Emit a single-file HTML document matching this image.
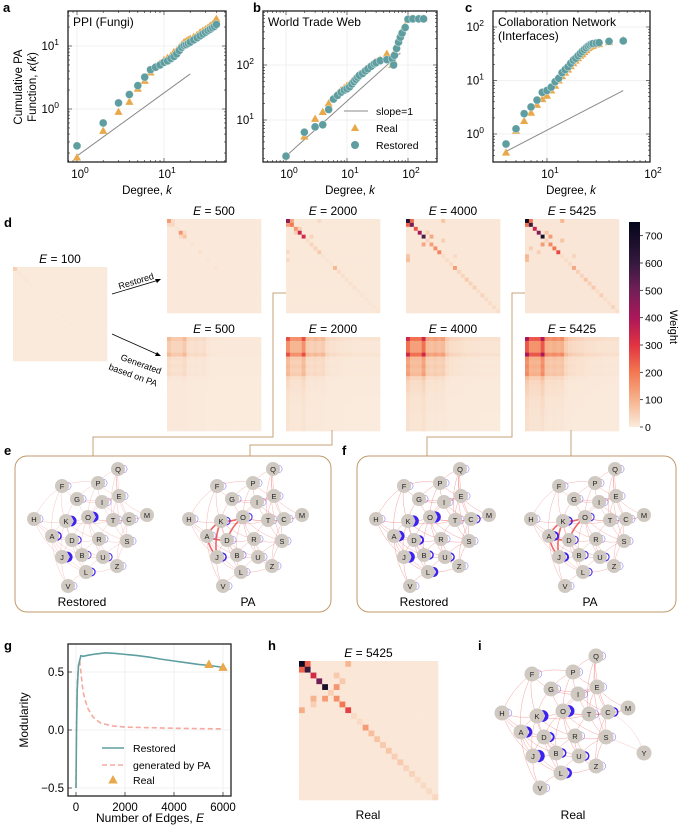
<!DOCTYPE html>
<html><head><meta charset="utf-8">
<style>
html,body{margin:0;padding:0;background:#fff;}
svg{display:block;font-family:"Liberation Sans",sans-serif;}
</style></head>
<body>
<svg id="fig" width="685" height="826" viewBox="0 0 685 826" xmlns="http://www.w3.org/2000/svg">
<defs>
<linearGradient id="cbar" x1="0" y1="1" x2="0" y2="0">
<stop offset="0" stop-color="#faebdd"/><stop offset="0.13" stop-color="#f6b48e"/><stop offset="0.27" stop-color="#f37651"/><stop offset="0.40" stop-color="#e13342"/><stop offset="0.53" stop-color="#ad1759"/><stop offset="0.67" stop-color="#701f57"/><stop offset="0.80" stop-color="#35193e"/><stop offset="1" stop-color="#03051a"/>
</linearGradient>
</defs>
<g id="layer"></g>
<text x="3" y="12" font-size="13" font-weight="bold">a</text>
<text x="253" y="12" font-size="13" font-weight="bold">b</text>
<text x="465" y="12" font-size="13" font-weight="bold">c</text>
<text x="4" y="227" font-size="13" font-weight="bold">d</text>
<text x="4" y="455" font-size="13" font-weight="bold">e</text>
<text x="342" y="455" font-size="13" font-weight="bold">f</text>
<text x="4" y="650" font-size="13" font-weight="bold">g</text>
<text x="268" y="650" font-size="13" font-weight="bold">h</text>
<text x="478" y="650" font-size="13" font-weight="bold">i</text>

<text transform="translate(22,87) rotate(-90)" font-size="11.5" text-anchor="middle">Cumulative PA</text>
<text transform="translate(36,87) rotate(-90)" font-size="11.5" text-anchor="middle">Function, <tspan font-style="italic">κ</tspan>(<tspan font-style="italic">k</tspan>)</text>
<text x="147" y="194" font-size="11.5" text-anchor="middle">Degree, <tspan font-style="italic">k</tspan></text>
<text x="350" y="194" font-size="11.5" text-anchor="middle">Degree, <tspan font-style="italic">k</tspan></text>
<text x="571" y="194" font-size="11.5" text-anchor="middle">Degree, <tspan font-style="italic">k</tspan></text>

<line x1="112" y1="294" x2="159" y2="280" stroke="#000" stroke-width="0.8"/>
<polygon points="161,279 155,279 157,283" fill="#000"/>
<text transform="translate(137,284) rotate(-17)" font-size="9" text-anchor="middle">Restored</text>
<line x1="112" y1="334" x2="159" y2="355" stroke="#000" stroke-width="0.8"/>
<polygon points="161,356 155,356 157,352" fill="#000"/>
<text transform="translate(140,367) rotate(20)" font-size="9" text-anchor="middle">Generated</text>
<text transform="translate(132,378) rotate(20)" font-size="9" text-anchor="middle">based on PA</text>

<g stroke="#c8a37a" stroke-width="1" fill="none">
<polyline points="93,456 93,437 273,437 273,293 286,293"/>
<polyline points="332,430 332,445 250,445 250,456"/>
<polyline points="427,456 427,437 512,437 512,293 525,293"/>
<polyline points="571,430 571,456"/>
</g>
<rect x="15" y="456" width="316" height="156" rx="12" fill="none" stroke="#c09a6b" stroke-width="1"/>
<rect x="357" y="456" width="319" height="156" rx="12" fill="none" stroke="#c09a6b" stroke-width="1"/>
<text x="82" y="606" font-size="12" text-anchor="middle">Restored</text>
<text x="248" y="606" font-size="12" text-anchor="middle">PA</text>
<text x="424" y="606" font-size="12" text-anchor="middle">Restored</text>
<text x="590" y="606" font-size="12" text-anchor="middle">PA</text>
<text x="368" y="819" font-size="12" text-anchor="middle">Real</text>
<text x="573" y="819" font-size="12" text-anchor="middle">Real</text>

<rect x="629" y="222" width="11" height="205" fill="url(#cbar)"/>
<text transform="translate(670,327) rotate(90)" font-size="11" text-anchor="middle">Weight</text>
</svg>
<script>
// ---------- data: panel a ----------
const aK = [1,2,3,4,5,6,7,8,9,10,11,12,13,14,15,16,17,18,19,20,22,24,26,28,30,32,34,36,38,40];
const aRestored = [0.26,0.6,1.25,1.7,2.35,3.2,4.2,4.6,5.0,5.5,5.8,6.3,6.8,7.5,8.5,9.5,10.2,10.5,11,11.5,12.5,13.5,14.5,15.5,16.5,17.5,18.5,19.5,20.5,22];
const aReal = [0.17,0.45,0.9,1.3,2.1,2.8,3.8,4.7,5.3,6,6.5,7,8,8.5,9.5,10.5,11.5,12,12.5,13,14,15,16.5,17.5,18.5,19.5,21,22,24,27];
const aSlopeK = [1,20];
// ---------- panel b ----------
const bK = [1,2,3,4,5,6,7,8,9,10,11,12,13,14,15,16,18,20,22,25,28,30,35,45,55,58,60,65,70,75,80,90,100,120,150,180];
const bRestored = [2.2,6,7.5,8.2,15.5,24,28,32,35,37,40,45,50,55,60,65,70,78,85,95,105,110,120,125,130,100,150,200,260,320,380,480,680,690,690,690];
const bReal = [2.2,5,10.5,14,20,25,30,35,38,42,45,50,55,58,63,68,75,82,90,100,110,115,125,160,100,120,170,230,300,360,420,520,700,700,700,700];
const bSlopeK = [1,75];
// ---------- panel c ----------
const cK = [4,5,6,7,8,9,10,11,12,13,14,15,16,17,18,19,20,21,22,23,24,25,26,27,28,30,32,40,55];
const cRestored = [0.65,1.25,2.4,3.2,4.3,6,6.5,7.5,9.5,11,14,16,18,21,24,26,29,32,35,38,41,44,46,48,49,50,51,54,55];
const cReal = [0.45,1.15,1.75,2.5,3.5,4.5,5.2,6.5,8,10,12,14,16,18.5,21,23.5,26,29,31,34,37,40,42,44,45,47,48,52,57];
const cSlopeK = [4,55];
// ---------- panel g ----------
const gRestoredE = [0,20,50,100,150,200,300,500,800,1200,1600,2000,2500,3000,3500,4000,4500,5000,5500,6000];
const gRestoredQ = [-0.5,0.0,0.35,0.55,0.6,0.64,0.635,0.645,0.655,0.665,0.66,0.652,0.642,0.628,0.61,0.595,0.58,0.565,0.555,0.54];
const gPAE = [0,20,50,100,150,200,250,300,400,500,700,1000,1500,2000,3000,4000,5000,6000];
const gPAQ = [-0.5,0.0,0.4,0.56,0.6,0.5,0.4,0.32,0.24,0.18,0.11,0.06,0.035,0.025,0.02,0.015,0.012,0.01];
const gRealE = [5425,6000];
const gRealQ = [0.565,0.54];
const gXTicks = [0,2000,4000,6000];
const gYTicks = [-0.5,0.0,0.5];
// ---------- heatmaps ----------
const diag100 = [50,8,6,10,5,3,3,3,3,3,3,3,3,3,3,3,3,3,3,3,3,3,3,3];
const diag500 = [140,35,15,150,70,8,15,6,20,6,8,6,10,6,6,5,5,5,5,5,5,5,5,5];
const diag2000 = [450,200,150,350,330,25,40,40,60,15,15,15,90,25,20,20,20,20,15,15,12,12,12,12];
const diag4000 = [650,500,250,420,560,40,130,160,180,25,25,30,140,40,40,60,40,50,25,40,25,25,25,20];
const diag5425 = [720,600,350,470,680,40,170,200,270,25,25,30,120,50,40,70,50,60,25,50,25,25,40,20];
const diagReal = [720,600,330,500,680,50,160,200,280,30,30,140,80,70,60,65,50,60,40,45,30,30,30,35];
const off500 = [[0,1,30],[1,0,30],[3,4,30],[4,3,30]];
const off2000 = [[0,1,130],[1,0,130],[0,8,30],[8,0,30],[2,3,50],[3,2,50],[4,6,40],[10,0,30]];
const off4000 = [[0,1,230],[1,0,230],[0,9,70],[9,0,70],[4,6,120],[6,4,120],[3,5,50],[10,0,80],[5,9,50],[9,12,30]];
const off5425 = [[0,1,210],[1,0,210],[0,9,90],[9,0,90],[4,6,140],[6,4,140],[3,5,70],[10,0,80],[5,9,70],[9,12,40],[8,3,50],[7,1,50]];
const offReal = [[0,1,230],[1,0,230],[4,6,150],[6,4,140],[6,2,100],[2,6,60],[8,0,110],[0,8,90],[3,7,60],[7,2,50]];
const bgRestored = [2,3,5,7,8];
const pa500 = [0.9,0.6,0.6,0.6,0.9,0.3,0.25,0.3,0.25,0.3,0.12,0.08,0.08,0.06,0.05,0.05,0.05,0.05,0.05,0.05,0.05,0.05,0.05,0.05];
const pa2000 = [1,0.6,0.6,0.6,1,0.35,0.3,0.35,0.3,0.35,0.15,0.1,0.1,0.08,0.07,0.06,0.06,0.05,0.05,0.05,0.05,0.05,0.05,0.05];
const pa4000 = [1,0.62,0.62,0.62,1,0.4,0.35,0.4,0.35,0.4,0.18,0.12,0.11,0.1,0.08,0.07,0.07,0.06,0.06,0.05,0.05,0.05,0.05,0.05];
const pa5425 = [1,0.62,0.62,0.62,1,0.42,0.38,0.42,0.38,0.42,0.2,0.14,0.12,0.11,0.1,0.08,0.07,0.07,0.06,0.06,0.05,0.05,0.05,0.05];
const paScale = [110,260,340,400];
const cbTicks = [0,100,200,300,400,500,600,700];
// ---------- networks ----------
const nodeNames = ["Q","P","F","E","G","I","H","K","O","T","C","M","A","D","R","S","J","B","U","Z","L","V"];
const nodeX = [118,98,62,119,77,102,34,66,88,113,129,147,52,72,99,127,62,82,103,117,86,68];
const nodeY = [469,483,486,496,499,502,519,521,517,520,519,515,536,540,539,541,557,555,557,566,572,586];
const iNames = ["Q","P","F","E","G","I","H","K","O","T","C","M","A","D","R","S","J","B","U","Z","L","V","Y"];
const iX = [596,573,532,597,551,578,502,537,563,589,608,628,521,544,575,606,533,556,579,596,561,540,644];
const iY = [656,672,674,687,689,694,713,716,711,714,712,708,732,737,736,737,756,753,756,766,773,788,753];
const edges = "QP QE QT QC QS PF PG PI PE PO FG FH FK FA GI GK GO GE IE IO IT IC EO EC ET EM HK HA HJ HD KO KA KD KJ KB KR KT OT OR OD OB OU OC OS TC TR TS TM CS CM CZ AD AJ AB AL AV DR DJ DB DU DL RS RU RB RZ SU SZ JB JL JV BU BL UZ UL LV LZ".split(" ");
const strongPA = ["KA","AJ","KO","OD","KJ","AD"];
const loopsER = {K:3,O:3,A:1.5,J:3,D:1,B:0.8,U:1,L:1.2};
const loopsEPA = {K:1,O:1,J:1.5,B:0.6};
const loopsFR = {K:3.5,O:3.5,A:3,J:3.5,D:2,B:1.5,U:1.5,L:2.5,C:1.2};
const loopsFPA = {K:1.5,O:1,A:2,J:2,B:1,U:1,L:1,D:1};
const loopsI = {K:3.5,O:3.5,A:3,J:4,D:2,B:1.5,U:1.5,L:2.5,C:1.5};

const NS = "http://www.w3.org/2000/svg";
const layer = document.getElementById("layer");
function el(tag, attrs, parent){
  const e = document.createElementNS(NS, tag);
  for (const k in attrs) e.setAttribute(k, attrs[k]);
  (parent||layer).appendChild(e);
  return e;
}
function logTxt(parent, x, y, exp, anchor){
  const t = el("text", {x:x, y:y, "font-size":11.5, "text-anchor":anchor}, parent);
  
  
  t.appendChild(document.createTextNode("10"));
  const s = el("tspan", {dy:-5, "font-size":8.5}, t);
  s.textContent = exp;
  return t;
}
function tri(parent, x, y, r, fill){
  return el("polygon", {points:`${x},${y-r} ${x-r*0.95},${y+r*0.7} ${x+r*0.95},${y+r*0.7}`, fill:fill}, parent);
}

function logPanel(cfg){
  const g = el("g", {});
  
  
  const [L,T,R,B] = cfg.box;
  const X = k => cfg.x0 + cfg.xd*Math.log10(k);
  const Y = v => cfg.y0 - cfg.yd*Math.log10(v);
  cfg.xt.forEach(e => { const px=X(Math.pow(10,e)); if(px>=L&&px<=R) el("line",{x1:px,y1:T,x2:px,y2:B,stroke:"#ececec","stroke-width":0.8},g); });
  cfg.yt.forEach(e => { const py=Y(Math.pow(10,e)); if(py>=T&&py<=B) el("line",{x1:L,y1:py,x2:R,y2:py,stroke:"#ececec","stroke-width":0.8},g); });
  for (let e=-2;e<4;e++) for (let m=1;m<10;m++){
    const v=m*Math.pow(10,e);
    const px=X(v), py=Y(v), len = m===1?4:2;
    if(px>L+0.5&&px<R-0.5){ el("line",{x1:px,y1:B,x2:px,y2:B-len,stroke:"#222","stroke-width":0.6},g); el("line",{x1:px,y1:T,x2:px,y2:T+len,stroke:"#222","stroke-width":0.6},g);}
    if(py>T+0.5&&py<B-0.5){ el("line",{x1:L,y1:py,x2:L+len,y2:py,stroke:"#222","stroke-width":0.6},g); el("line",{x1:R,y1:py,x2:R-len,y2:py,stroke:"#222","stroke-width":0.6},g);}
  }
  cfg.xt.forEach(e => logTxt(g, X(Math.pow(10,e))+3, B+16, e, "middle"));
  cfg.yt.forEach(e => logTxt(g, L-4-5, Y(Math.pow(10,e))+4, e, "end"));
  const sl = el("line",{x1:X(cfg.slopeK[0]),y1:Y(cfg.slopeK[0]*cfg.slopeA),x2:X(cfg.slopeK[1]),y2:Y(cfg.slopeK[1]*cfg.slopeA),stroke:"#8a8a8a","stroke-width":1},g);
  
  
  cfg.k.forEach((k,i) => {
    const t = tri(g, X(k), Y(cfg.real[i]), 4.3, "#e9a94b");
    
    
  });
  cfg.k.forEach((k,i) => {
    const c = el("circle",{cx:X(k),cy:Y(cfg.restored[i]),r:4,fill:"#5f9ea0",stroke:"#ffffff","stroke-opacity":0.6,"stroke-width":0.6},g);
    
    
  });
  const fr = el("rect",{x:L,y:T,width:R-L,height:B-T,fill:"none",stroke:"#222","stroke-width":1.3},g);
  
  
  cfg.title.forEach((s,i)=>{
    const t = el("text",{x:L+5,y:T+15+i*14,"font-size":12},g);
    t.textContent = s;
    
    
  });
  return {g,X,Y};
}

logPanel({name:"panel-a-ppi", box:[68,11,226,162], x0:77, xd:87, y0:109, yd:63, xt:[0,1], yt:[0,1],
  k:aK, restored:aRestored, real:aReal, slopeK:aSlopeK, slopeA:0.18, title:["PPI (Fungi)"]});
logPanel({name:"panel-b-wtw", box:[263,11,437,162], x0:286, xd:61, y0:175, yd:55, xt:[0,1,2], yt:[1,2],
  k:bK, restored:bRestored, real:bReal, slopeK:bSlopeK, slopeA:2.2, title:["World Trade Web"]});
logPanel({name:"panel-c-collab", box:[493,11,650,162], x0:444, xd:103, y0:134, yd:53.5, xt:[1,2], yt:[0,1,2],
  k:cK, restored:cRestored, real:cReal, slopeK:cSlopeK, slopeA:0.118, title:["Collaboration Network","(Interfaces)"]});
(function(){
  const g = el("g",{});
  
  
  const l = el("line",{x1:344,y1:111,x2:368,y2:111,stroke:"#8a8a8a","stroke-width":1},g);
  
  
  const t1 = el("text",{x:376,y:115,"font-size":10.5},g); t1.textContent="slope=1";
   
  const tr = tri(g,355,128,4.3,"#e9a94b");
   
  const t2 = el("text",{x:376,y:132,"font-size":10.5},g); t2.textContent="Real";
   
  const c = el("circle",{cx:355,cy:145,r:4,fill:"#5f9ea0"},g);
   
  const t3 = el("text",{x:376,y:149,"font-size":10.5},g); t3.textContent="Restored";
   
})();

const cStops = [[0,[250,235,221]],[0.13,[246,180,142]],[0.27,[243,118,81]],[0.40,[225,51,66]],[0.53,[173,23,89]],[0.67,[112,31,87]],[0.80,[53,25,62]],[1,[3,5,26]]];
function cmap(v){
  const t = Math.max(0,Math.min(1,v/750));
  for (let i=1;i<cStops.length;i++){
    if (t<=cStops[i][0]){
      const [t0,c0]=cStops[i-1],[t1,c1]=cStops[i]; const f=(t-t0)/(t1-t0);
      return `rgb(${c0.map((c,j)=>Math.round(c+(c1[j]-c)*f)).join(",")})`;
    }
  }
  return "rgb(3,5,26)";
}
const N = 24;
function restoredMatrix(diag, off, bg){
  const m=[]; for(let i=0;i<N;i++){ m.push(new Array(N).fill(bg)); m[i][i]=diag[i]; }
  off.forEach(([r,c,v])=>{ m[r][c]=v; });
  return m;
}
function paMatrix(s, scale){
  const m=[]; for(let i=0;i<N;i++){ m.push([]); for(let j=0;j<N;j++) m[i].push(s[i]*s[j]*scale); }
  return m;
}
function heatmap(name, x, y, size, m, title){
  const g = el("g",{});
  
  
  const cs = size/N;
  for(let i=0;i<N;i++) for(let j=0;j<N;j++){
    const r = el("rect",{x:(x+j*cs).toFixed(2),y:(y+i*cs).toFixed(2),width:(cs+0.3).toFixed(2),height:(cs+0.3).toFixed(2),fill:cmap(m[i][j])},g);
    
    
  }
  if (title){
    const t = el("text",{x:x+size/2,y:y-4,"font-size":12,"text-anchor":"middle"},g);
    const e = el("tspan",{"font-style":"italic"},t); e.textContent="E";
    t.appendChild(document.createTextNode(" = "+title));
    
    
  }
}
heatmap("heatmap-e100", 13, 267, 94, restoredMatrix(diag100, [], bgRestored[0]), "100");
heatmap("heatmap-restored-e500", 167, 219, 94, restoredMatrix(diag500, off500, bgRestored[1]), "500");
heatmap("heatmap-restored-e2000", 286, 219, 94, restoredMatrix(diag2000, off2000, bgRestored[2]), "2000");
heatmap("heatmap-restored-e4000", 406, 219, 94, restoredMatrix(diag4000, off4000, bgRestored[3]), "4000");
heatmap("heatmap-restored-e5425", 525, 219, 94, restoredMatrix(diag5425, off5425, bgRestored[4]), "5425");
heatmap("heatmap-pa-e500", 167, 337, 94, paMatrix(pa500, paScale[0]), "500");
heatmap("heatmap-pa-e2000", 286, 337, 94, paMatrix(pa2000, paScale[1]), "2000");
heatmap("heatmap-pa-e4000", 406, 337, 94, paMatrix(pa4000, paScale[2]), "4000");
heatmap("heatmap-pa-e5425", 525, 337, 94, paMatrix(pa5425, paScale[3]), "5425");
heatmap("heatmap-real-e5425", 299, 661, 139, restoredMatrix(diagReal, offReal, bgRestored[3]), "5425");
cbTicks.forEach(v=>{
  const y = 427 - v/750*205;
  el("line",{x1:640,y1:y,x2:643,y2:y,stroke:"#222","stroke-width":0.8});
  const t = el("text",{x:645,y:y+4,"font-size":10.5}); t.textContent = v;
  
  
});

function network(name, names, xs, ys, dx, dy, loops, mode, r){
  const g = el("g",{});
  
  
  const pos = {}; names.forEach((n,i)=>pos[n]=[xs[i]+dx, ys[i]+dy]);
  edges.forEach((e,i)=>{
    const a=pos[e[0]], b=pos[e[1]]; if(!a||!b) return;
    const mx=(a[0]+b[0])/2, my=(a[1]+b[1])/2;
    const nx=-(b[1]-a[1])*0.15, ny=(b[0]-a[0])*0.15;
    const strong = mode==="pa" && (strongPA.includes(e)||strongPA.includes(e[1]+e[0]));
    const op = strong ? 0.9 : (mode==="pa"?0.45:(mode==="dense"?0.55:0.35));
    const p = el("path",{d:`M${a[0]},${a[1]} Q${mx+nx},${my+ny} ${b[0]},${b[1]}`,fill:"none",stroke:"#ee5555","stroke-opacity":op,"stroke-width":strong?1.6:0.5},g);
    
    
  });
  if (names.includes("Y")){
    const a=pos["Y"], b=pos["S"], c=pos["C"];
    el("path",{d:`M${a[0]},${a[1]} Q${a[0]-20},${a[1]-10} ${b[0]},${b[1]}`,fill:"none",stroke:"#ee5555","stroke-opacity":0.35,"stroke-width":0.5},g);
    el("path",{d:`M${a[0]},${a[1]} Q${a[0]-10},${a[1]-30} ${c[0]},${c[1]}`,fill:"none",stroke:"#ee5555","stroke-opacity":0.35,"stroke-width":0.5},g);
  }
  names.forEach(n=>{
    if (n==="Y"||n==="M") return;
    const [x,y]=pos[n]; const w = loops[n]||0.5;
    const lp = el("circle",{cx:x+r*0.75,cy:y,r:r*0.55,fill:"none",stroke:"#3b22f2","stroke-width":w,"stroke-opacity":w>0.6?1:0.7},g);
    
    
  });
  names.forEach(n=>{
    const [x,y]=pos[n];
    const c = el("circle",{cx:x,cy:y,r:r,fill:"#cfc9c1"},g);
    
    
    const t = el("text",{x:x,y:y+2.8,"font-size":7.5,"text-anchor":"middle",fill:"#222"},g);
    t.textContent = n;
    
    
  });
}
network("network-e-restored", nodeNames, nodeX, nodeY, 0, 0, loopsER, "sparse", 7);
network("network-e-pa", nodeNames, nodeX, nodeY, 155, 0, loopsEPA, "pa", 7);
network("network-f-restored", nodeNames, nodeX, nodeY, 342, 0, loopsFR, "dense", 7);
network("network-f-pa", nodeNames, nodeX, nodeY, 497, 0, loopsFPA, "pa", 7);
network("network-i-real", iNames, iX, iY, 0, 0, loopsI, "dense", 7.5);

(function(){
  const g = el("g",{});
  
  
  const L=68,T=644,R=231,B=796;
  const X = e => 76 + e*49/2000;
  const Y = q => 730 - q*116;
  gXTicks.forEach(v=>{
    el("line",{x1:X(v),y1:T,x2:X(v),y2:B,stroke:"#ececec","stroke-width":0.8},g);
    el("line",{x1:X(v),y1:B,x2:X(v),y2:B-4,stroke:"#222","stroke-width":0.7},g);
    const t=el("text",{x:X(v),y:B+15,"font-size":11.5,"text-anchor":"middle"},g); t.textContent=v;
     
  });
  gYTicks.forEach(v=>{
    el("line",{x1:L,y1:Y(v),x2:R,y2:Y(v),stroke:"#ececec","stroke-width":0.8},g);
    el("line",{x1:L,y1:Y(v),x2:L+4,y2:Y(v),stroke:"#222","stroke-width":0.7},g);
    const t=el("text",{x:L-4,y:Y(v)+4,"font-size":11.5,"text-anchor":"end"},g); t.textContent=(v<0?"\u2212":"")+Math.abs(v).toFixed(1);
     
  });
  const pa = el("polyline",{points:gPAE.map((e,i)=>X(e)+","+Y(gPAQ[i])).join(" "),fill:"none",stroke:"#f7a8a0","stroke-width":1.6,"stroke-dasharray":"5,3"},g);
   
  const rs = el("polyline",{points:gRestoredE.map((e,i)=>X(e)+","+Y(gRestoredQ[i])).join(" "),fill:"none",stroke:"#5f9ea0","stroke-width":1.6},g);
   
  gRealE.forEach((e,i)=>{
    const t = tri(g, X(e), Y(gRealQ[i]), 5, "#e9a94b");
     
  });
  const fr = el("rect",{x:L,y:T,width:R-L,height:B-T,fill:"none",stroke:"#222","stroke-width":1.3},g);
   
  const yl = el("text",{transform:"translate(28,720) rotate(-90)","font-size":12,"text-anchor":"middle"},g); yl.textContent="Modularity";
   
  const xl = el("text",{x:150,y:822,"font-size":12,"text-anchor":"middle"},g); xl.textContent="Number of Edges, ";
  const xe = el("tspan",{"font-style":"italic"},xl); xe.textContent="E";
   
  el("line",{x1:102,y1:748,x2:124,y2:748,stroke:"#5f9ea0","stroke-width":1.6},g);
  el("line",{x1:102,y1:765,x2:124,y2:765,stroke:"#f7a8a0","stroke-width":1.6,"stroke-dasharray":"5,3"},g);
  tri(g,113,780,5,"#e9a94b");
  [["Restored",752],["generated by PA",769],["Real",784]].forEach(([s,y])=>{
    const t=el("text",{x:133,y:y,"font-size":10.5},g); t.textContent=s;
     
  });
})();
</script>
</body></html>
